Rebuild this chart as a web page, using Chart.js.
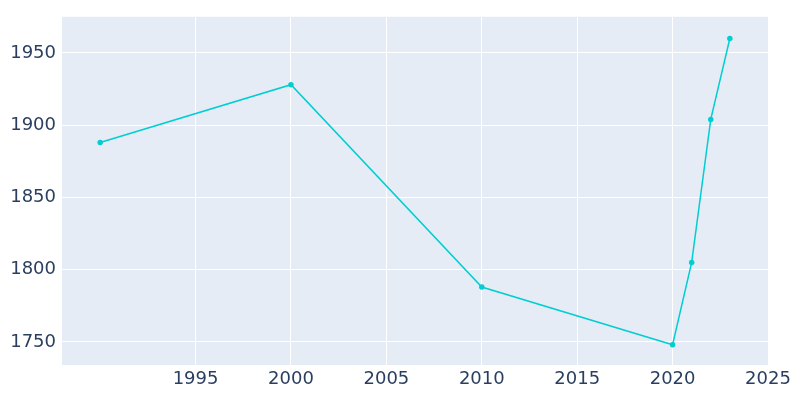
<!DOCTYPE html>
<html>
<head>
<script src="https://cdn.jsdelivr.net/npm/chart.js@4"></script>
<style>
  body { margin: 0; background: #fff; }
  #wrap { width: 800px; height: 400px; }
</style>
</head>
<body>
<div id="wrap"><canvas id="populationChart"></canvas></div>
<script>
const years = [1990, 2000, 2010, 2020, 2021, 2022, 2023];
const population = [1888, 1928, 1788, 1748, 1805, 1904, 1960];

const plotBackground = {
  id: "plotBackground",
  beforeDraw(chart) {
    const { ctx, chartArea } = chart;
    ctx.save();
    ctx.fillStyle = "#E5ECF6";
    ctx.fillRect(chartArea.left, chartArea.top, chartArea.right - chartArea.left, chartArea.bottom - chartArea.top);
    ctx.restore();
  },
};

// keep only the round ticks, drop the min/max ones Chart.js adds
function keepRoundTicks(step) {
  return (scale) => {
    scale.ticks = scale.ticks.filter((tick) => tick.value % step === 0);
  };
}

const tickFont = { size: 18, family: "DejaVu Sans" };

new Chart(document.getElementById("populationChart"), {
  type: "line",
  data: {
    datasets: [
      {
        data: years.map((year, i) => ({ x: year, y: population[i] })),
        borderColor: "#00CED1",
        backgroundColor: "#00CED1",
        borderWidth: 1.5,
        pointRadius: 2,
        tension: 0,
      },
    ],
  },
  plugins: [plotBackground],
  options: {
    responsive: true,
    maintainAspectRatio: false,
    animation: false,
    layout: { padding: { top: -11, right: 32 } },
    plugins: { legend: { display: false }, tooltip: { enabled: false } },
    scales: {
      x: {
        type: "linear",
        min: 1988,
        max: 2025,
        afterBuildTicks: keepRoundTicks(5),
        afterFit: (scale) => { scale.height = 35; },
        ticks: { stepSize: 5, autoSkip: false, maxRotation: 0, color: "#2a3f5f", font: tickFont, padding: 4, callback: (v) => String(v) },
        grid: { color: "#ffffff", lineWidth: 1, drawTicks: false },
        border: { display: false },
      },
      y: {
        min: 1734,
        max: 1975,
        afterBuildTicks: keepRoundTicks(50),
        afterFit: (scale) => { scale.width = 62; },
        ticks: { stepSize: 50, autoSkip: false, color: "#2a3f5f", font: tickFont, padding: 6, callback: (v) => String(v) },
        grid: { color: "#ffffff", lineWidth: 1, drawTicks: false },
        border: { display: false },
      },
    },
  },
});
</script>
</body>
</html>
